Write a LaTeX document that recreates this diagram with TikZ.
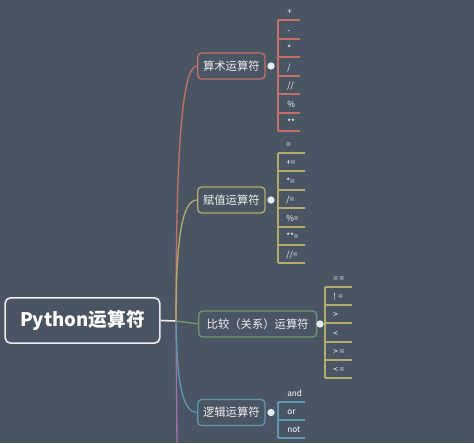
\documentclass[tikz,border=0pt]{standalone}
\usepackage{fontspec}
\setmainfont{Noto Sans CJK SC}

\definecolor{bgslate}{RGB}{74,85,99}
\definecolor{suanshu}{RGB}{196,110,106}
\definecolor{fuzhi}{RGB}{180,172,106}
\definecolor{bijiao}{RGB}{108,152,112}
\definecolor{luoji}{RGB}{94,152,170}
\definecolor{zise}{RGB}{160,112,172}

\begin{document}
\begin{tikzpicture}[x=0.75pt,y=-0.75pt,
    root/.style={draw=white!85!gray, line width=1.2pt, rounded corners=4pt,
        text=white, font=\fontsize{14}{16}\selectfont\bfseries,
        minimum width=116pt, minimum height=34pt},
    topic/.style={draw=#1, line width=1pt, rounded corners=3pt, anchor=west,
        text=white!88!gray, font=\fontsize{8.5}{10}\selectfont,
        minimum height=19.5pt, inner xsep=4pt},
    knob/.style={circle, fill=white!82!luoji, inner sep=0pt, minimum size=5.5pt},
    leaf/.style={text=white, font=\fontsize{6.2}{7}\selectfont, inner sep=0pt, anchor=base west},
    branch/.style={line width=1pt, #1},
    underline/.style={line width=1pt, #1}
    ]

    \fill[bgslate] (0,0) rectangle (474,443);
    \useasboundingbox (0,0) rectangle (474,443);

    \node[root] (root) at (82.5,320.5) {Python运算符};
    \coordinate (junc) at (176,321);

    \node[topic=suanshu] (suanshu) at (197,66) {算术运算符};
    \node[topic=fuzhi] (fuzhi) at (197,200) {赋值运算符};
    \node[topic=bijiao, inner xsep=6pt] (bijiao) at (198,324) {比较（关系）运算符};
    \node[topic=luoji] (luoji) at (197,412.5) {逻辑运算符};
    \coordinate (down) at (177,443);

    % trunk and branches
    \draw[line width=1.2pt, white!85!gray] (root.east) -- (junc);
    \draw[branch=zise] (junc) -- (down);
    \draw[branch=suanshu] (junc) .. controls (176,150) and (182,66) .. (suanshu.west);
    \draw[branch=fuzhi] (junc) .. controls (176,245) and (181,200) .. (fuzhi.west);
    \draw[branch=bijiao] (junc) -- (bijiao.west);
    \draw[branch=luoji] (junc) .. controls (177,385) and (183,412.5) .. (luoji.west);

    % collapse knobs
    \node[knob] (k1) at ([xshift=4pt]suanshu.east) {};
    \node[knob] (k2) at ([xshift=4pt]fuzhi.east) {};
    \node[knob] (k3) at ([xshift=2pt]bijiao.east) {};
    \node[knob] (k4) at ([xshift=4pt]luoji.east) {};

    % leaves
    \draw[underline=suanshu] (278,20) -- (278,131);
    \foreach \sym [count=\i] in {+,-,*,/,//,\%,**}{
        \pgfmathsetmacro{\yy}{round(20+(\i-1)*18.5)}
        \draw[underline=suanshu] (278,\yy) -- (300,\yy);
        \node[leaf] (a\i) at (287,\yy-6) {\sym};
    }

    \draw[underline=fuzhi] (278,153) -- (278,263);
    \foreach \sym [count=\i] in {=,+=,*=,/=,\%=,**=,//=}{
        \pgfmathsetmacro{\yy}{round(153+(\i-1)*18.4)}
        \draw[underline=fuzhi] (278,\yy) -- (305,\yy);
        \node[leaf] (f\i) at (286,\yy-6) {\sym};
    }

    \draw[underline=fuzhi] (325,287) -- (325,378);
    \foreach \sym [count=\i] in {= =,! =,>,<,> =,< =}{
        \pgfmathsetmacro{\yy}{round(287+(\i-1)*18.2)}
        \draw[underline=fuzhi] (325,\yy) -- (352,\yy);
        \node[leaf] (c\i) at (333,\yy-6) {\sym};
    }

    \draw[underline=luoji] (278,402) -- (278,438);
    \foreach \sym [count=\i] in {and,or,not}{
        \pgfmathsetmacro{\yy}{402+(\i-1)*18}
        \draw[underline=luoji] (278,\yy) -- (305,\yy);
        \node[leaf] (l\i) at (287,\yy-6) {\sym};
    }
\end{tikzpicture}
\end{document}
